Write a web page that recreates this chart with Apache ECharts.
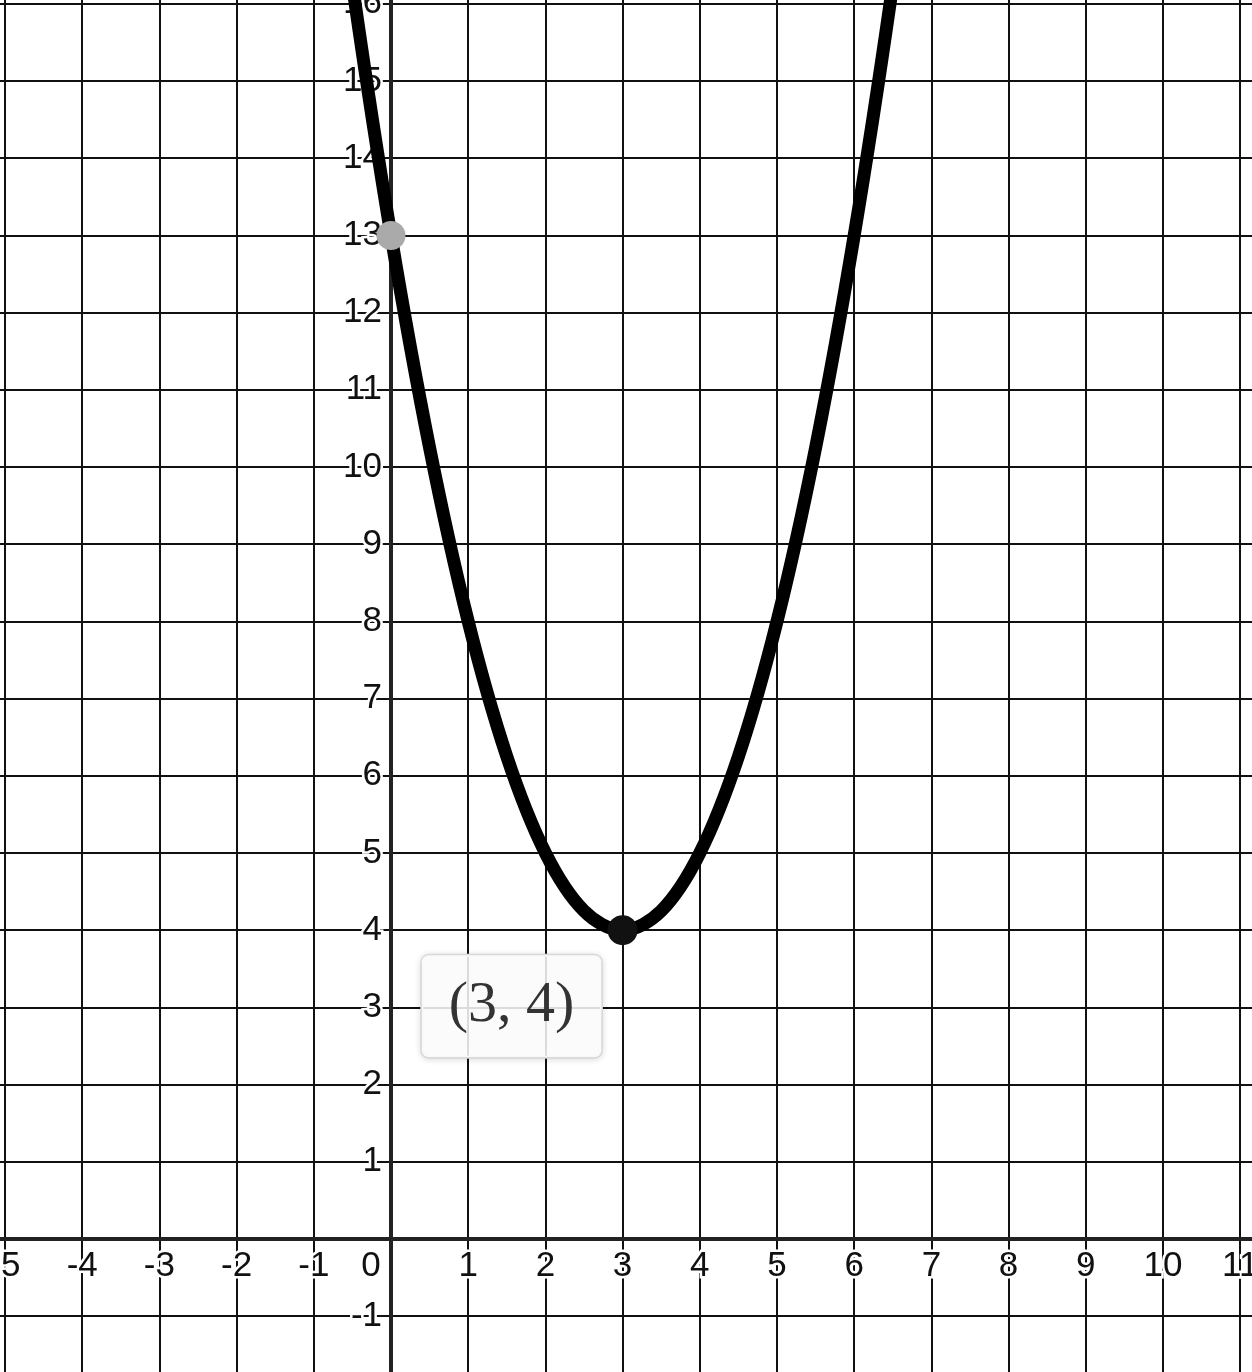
<!DOCTYPE html>
<html>
<head>
<meta charset="utf-8">
<script src="https://cdn.jsdelivr.net/npm/echarts@6/dist/echarts.min.js"></script>
<style>
html,body{margin:0;padding:0;background:#fff;}
#chart{width:1252px;height:1372px;}
</style>
</head>
<body>
<div id="chart"></div>
<script>
// Curve points: parabola with vertex (3, 4)
const curveX = [-1, -0.5, 0, 0.5, 1, 1.5, 2, 2.5, 3, 3.5, 4, 4.5, 5, 5.5, 6, 6.5, 7];
const curveY = [20, 16.25, 13, 10.25, 8, 6.25, 5, 4.25, 4, 4.25, 5, 6.25, 8, 10.25, 13, 16.25, 20];
const vertexPoint = [3, 4];
const interceptPoint = [0, 13];
const vertexLabel = '(3, 4)';
const xRange = [-6, 12];
const yRange = [-2, 17];

const chart = echarts.init(document.getElementById('chart'));

const unit = 77.2;
const originPx = [391, 1239];

const labelFont = {
  fontFamily: 'Liberation Sans, Arial, sans-serif',
  fontSize: 35,
  color: '#111',
  textBorderColor: '#fff',
  textBorderWidth: 5
};

const option = {
  animation: false,
  backgroundColor: '#fff',
  grid: {
    left: originPx[0] + xRange[0] * unit,
    width: (xRange[1] - xRange[0]) * unit,
    top: originPx[1] - yRange[1] * unit,
    height: (yRange[1] - yRange[0]) * unit,
    containLabel: false,
    outerBoundsMode: 'none'
  },
  xAxis: {
    type: 'value',
    position: 'bottom',
    min: xRange[0],
    max: xRange[1],
    interval: 1,
    offset: yRange[0] * unit,
    axisLine: { onZero: false, lineStyle: { color: '#222', width: 4 } },
    axisTick: { show: false },
    axisLabel: Object.assign({
      margin: 10,
      formatter: v => (v === 0 ? '{z|0}' : String(v)),
      rich: {
        z: Object.assign({ padding: [0, 40, 0, 0] }, labelFont)
      }
    }, labelFont),
    splitLine: { show: true, lineStyle: { color: '#111', width: 2 } },
    z: 2
  },
  yAxis: {
    type: 'value',
    position: 'left',
    min: yRange[0],
    max: yRange[1],
    interval: 1,
    offset: xRange[0] * unit,
    axisLine: { onZero: false, lineStyle: { color: '#222', width: 4 } },
    axisTick: { show: false },
    axisLabel: Object.assign({
      margin: 9,
      formatter: v => (v === 0 ? '' : String(v))
    }, labelFont),
    splitLine: { show: true, lineStyle: { color: '#111', width: 2 } },
    z: 2
  },
  series: [
    {
      type: 'line',
      data: curveX.map((x, i) => [x, curveY[i]]),
      smooth: 0.35,
      showSymbol: false,
      symbol: 'none',
      lineStyle: { color: '#000', width: 13 },
      z: 5,
      silent: true
    },
    {
      type: 'scatter',
      data: [interceptPoint],
      symbolSize: 29,
      itemStyle: { color: '#aaaaaa', opacity: 1 },
      silent: true,
      z: 7
    },
    {
      type: 'scatter',
      data: [vertexPoint],
      symbolSize: 30,
      itemStyle: { color: '#111', opacity: 1 },
      silent: true,
      z: 8,
      label: {
        show: true,
        position: 'inside',
        offset: [-111, 76],
        formatter: vertexLabel,
        fontFamily: 'Liberation Serif, DejaVu Serif, serif',
        fontSize: 58,
        color: '#333',
        backgroundColor: 'rgba(255,255,255,0.85)',
        borderColor: '#e0e0e0',
        borderWidth: 1.5,
        borderRadius: 7,
        padding: [22, 27, 22, 27],
        shadowColor: 'rgba(0,0,0,0.12)',
        shadowBlur: 6,
        shadowOffsetY: 1
      }
    }
  ]
};

chart.setOption(option);
</script>
</body>
</html>
